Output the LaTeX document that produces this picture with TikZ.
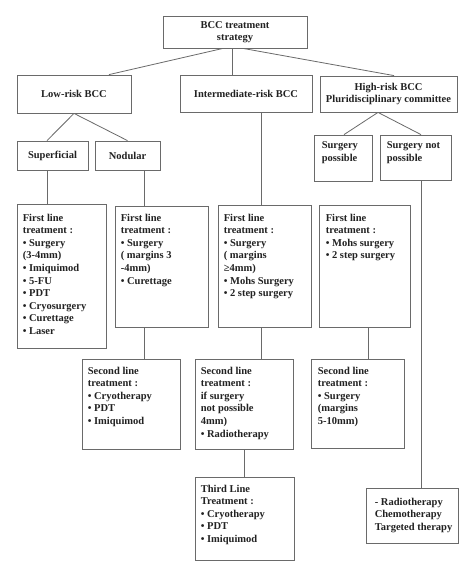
\documentclass[tikz,border=0pt]{standalone}
\usepackage{fontspec}
\setmainfont{Liberation Serif}
\definecolor{linecol}{HTML}{6A6A6A}
\definecolor{txtcol}{HTML}{222222}
\begin{document}
\begin{tikzpicture}[x=1pt,y=-1pt,
  box/.style={draw=linecol, line width=0.8pt, inner sep=0pt, fill=white},
  txt/.style={text=txtcol, font=\bfseries\fontsize{10.5}{12.6}\selectfont, inner sep=0pt, align=left, anchor=north west},
  ctxt/.style={text=txtcol, font=\bfseries\fontsize{10.5}{12.6}\selectfont, align=center},
  conn/.style={draw=linecol, line width=0.8pt}]
\useasboundingbox[fill=white] (0,0) rectangle (474,576);

% level 0/1
\node[box, ctxt, minimum width=144pt, minimum height=32pt] (top) at (235,32) {BCC treatment\\strategy};
\node[box, ctxt, minimum width=114pt, minimum height=38pt] (low) at (74,94) {Low-risk BCC};
\node[box, ctxt, minimum width=132pt, minimum height=37pt] (mid) at (246,93.5) {Intermediate-risk BCC};
\node[box, ctxt, minimum width=137pt, minimum height=36pt] (high) at (388.5,94) {High-risk BCC\\Pluridisciplinary committee};

% level 2
\node[box, ctxt, minimum width=71pt, minimum height=29pt] (sup) at (52.5,155.5) {Superficial};
\node[box, ctxt, minimum width=65pt, minimum height=29pt] (nod) at (127.5,155.5) {Nodular};
\node[box, minimum width=58pt, minimum height=46pt] (sp) at (343,158) {};
\node[txt] (sptxt) at ([shift={(8,7)}]sp.north west) {Surgery\\possible};
\node[box, minimum width=71pt, minimum height=45pt] (snp) at (415.5,157.5) {};
\node[txt] (snptxt) at ([shift={(7,7)}]snp.north west) {Surgery not\\possible};

% first line
\node[box, minimum width=89pt, minimum height=144pt] (A) at (61.5,276) {};
\node[txt] (Atxt) at ([shift={(6,10)}]A.north west) {First line\\treatment :\\• Surgery\\(3-4mm)\\• Imiquimod\\• 5-FU\\• PDT\\• Cryosurgery\\• Curettage\\• Laser};
\node[box, minimum width=93pt, minimum height=121pt] (B) at (161.5,266.5) {};
\node[txt] (Btxt) at ([shift={(6,8)}]B.north west) {First line\\treatment :\\• Surgery\\( margins 3\\-4mm)\\• Curettage};
\node[box, minimum width=93pt, minimum height=122pt] (C) at (264.5,266) {};
\node[txt] (Ctxt) at ([shift={(6,9)}]C.north west) {First line\\treatment :\\• Surgery\\( margins\\≥4mm)\\• Mohs Surgery\\• 2 step surgery};
\node[box, minimum width=91pt, minimum height=122pt] (D) at (364.5,266) {};
\node[txt] (Dtxt) at ([shift={(7,9)}]D.north west) {First line\\treatment :\\• Mohs surgery\\• 2 step surgery};

% second line
\node[box, minimum width=98pt, minimum height=90pt] (E) at (131,404) {};
\node[txt] (Etxt) at ([shift={(6,8)}]E.north west) {Second line\\treatment :\\• Cryotherapy\\• PDT\\• Imiquimod};
\node[box, minimum width=98pt, minimum height=90pt] (F) at (244,404) {};
\node[txt] (Ftxt) at ([shift={(6,8)}]F.north west) {Second line\\treatment :\\if surgery\\not possible\\4mm)\\• Radiotherapy};
\node[box, minimum width=93pt, minimum height=89pt] (G) at (357.5,403.5) {};
\node[txt] (Gtxt) at ([shift={(7,8)}]G.north west) {Second line\\treatment :\\• Surgery\\(margins\\5-10mm)};

% third line
\node[box, minimum width=99pt, minimum height=83pt] (T) at (244.5,518.5) {};
\node[txt] (Ttxt) at ([shift={(6,8)}]T.north west) {Third Line\\Treatment :\\• Cryotherapy\\• PDT\\• Imiquimod};
\node[box, minimum width=92pt, minimum height=55pt] (Z) at (412,515.5) {};
\node[txt, anchor=west] (Ztxt) at ([xshift=9]Z.west) {- Radiotherapy\\Chemotherapy\\Targeted therapy};

% connectors
\draw[conn] ([xshift=-12]top.south) -- ([xshift=35]low.north);
\draw[conn] ([xshift=-3]top.south) -- ([xshift=-14]mid.north);
\draw[conn] ([xshift=8]top.south) -- ([xshift=5.5]high.north);
\draw[conn] (low.south) -- ([xshift=-5.5]sup.north);
\draw[conn] (low.south) -- (nod.north);
\draw[conn] ([xshift=-10.5]high.south) -- ([xshift=1]sp.north);
\draw[conn] ([xshift=-10.5]high.south) -- ([xshift=5.5]snp.north);
\draw[conn] ([xshift=-5.5]sup.south) -- ([xshift=-5.5]sup.south |- A.north);
\draw[conn] ([xshift=16.5]nod.south) -- ([xshift=16.5]nod.south |- B.north);
\draw[conn] ([xshift=15]mid.south) -- ([xshift=15]mid.south |- C.north);
\draw[conn] ([xshift=5.5]snp.south) -- ([xshift=5.5]snp.south |- Z.north);
\draw[conn] ([xshift=-17.5]B.south) -- ([xshift=-17.5]B.south |- E.north);
\draw[conn] ([xshift=-3.5]C.south) -- ([xshift=-3.5]C.south |- F.north);
\draw[conn] ([xshift=3.5]D.south) -- ([xshift=3.5]D.south |- G.north);
\draw[conn] (F.south) -- (F.south |- T.north);
\end{tikzpicture}
\end{document}
